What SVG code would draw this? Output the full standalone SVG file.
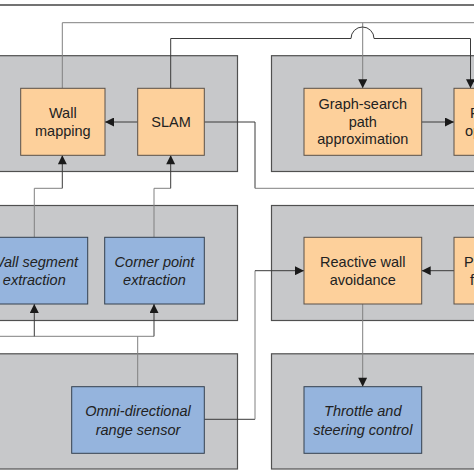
<svg xmlns="http://www.w3.org/2000/svg" width="474" height="474" viewBox="0 0 474 474">
<defs>
<style>
.panel{fill:#c7c8ca;stroke:#505050;stroke-width:1.2}
.org{fill:#fdd09b;stroke:#5a5048;stroke-width:1}
.blu{fill:#95b4dd;stroke:#34404f;stroke-width:1}
.t{font-family:"Liberation Sans",Arial,sans-serif;font-size:14.5px;fill:#222;text-anchor:middle}
.s{text-anchor:start}
.i{font-style:italic}
.c{fill:none;stroke:#3a3a3a;stroke-width:1}
.l{fill:none;stroke:#808080;stroke-width:1}
</style>
<marker id="a" viewBox="0 0 10 10" refX="10" refY="5" markerWidth="10" markerHeight="9" markerUnits="userSpaceOnUse" orient="auto">
<path d="M0,0 L10,5 L0,10 z" fill="#1a1a1a"/>
</marker>
</defs>
<rect width="474" height="474" fill="#ffffff"/>
<line x1="0" y1="5" x2="474" y2="5" stroke="#444" stroke-width="1.5"/>
<g id="panels">
<rect class="panel" x="-5" y="55.7" width="242.5" height="115.8"/>
<rect class="panel" x="271.5" y="55.7" width="210" height="115.8"/>
<rect class="panel" x="-5" y="205.5" width="242.5" height="115"/>
<rect class="panel" x="271.5" y="205.5" width="210" height="115"/>
<rect class="panel" x="-5" y="353.8" width="242.5" height="115.2"/>
<rect class="panel" x="271.5" y="353.8" width="210" height="115.2"/>
</g>
<g id="connectors">
<path class="l" d="M62.3,88.3 V22.7 H474"/>
<path class="l" d="M362.7,22.7 V88.3" marker-end="url(#a)"/>
<path class="c" d="M170.7,88.3 V38.5 H351 A11.5,11.5 0 0 1 374,38.5 H470.5 V88.3" marker-end="url(#a)"/>
<path class="c" d="M204.3,122 H255 V188.3"/>
<path class="l" d="M255,188.3 H474"/>
<path class="c" d="M137.7,122 H105" marker-end="url(#a)"/>
<path class="l" d="M34.3,237.3 V188.3 H62.3"/>
<path class="c" d="M62.3,188.3 V155.3" marker-end="url(#a)"/>
<path class="l" d="M154,237.3 V188.3 H170.7"/>
<path class="c" d="M170.7,188.3 V155.3" marker-end="url(#a)"/>
<path class="l" d="M137.7,386.7 V336.3"/>
<path class="l" d="M0,336.3 H154"/>
<path class="c" d="M34.3,336.3 V304" marker-end="url(#a)"/>
<path class="c" d="M154,336.3 V304" marker-end="url(#a)"/>
<path class="c" d="M204.3,419.3 H255"/>
<path class="l" d="M255,419.3 V270.7"/>
<path class="c" d="M255,270.7 H304" marker-end="url(#a)"/>
<path class="c" d="M454,270.7 H421.7" marker-end="url(#a)"/>
<path class="c" d="M421.7,122 H454" marker-end="url(#a)"/>
<path class="l" d="M362.7,304 V386.7" marker-end="url(#a)"/>
</g>
<g id="wall-mapping">
<rect class="org" x="20.7" y="88.3" width="84.3" height="67"/>
<text class="t" x="62.8" y="118">Wall</text>
<text class="t" x="62.8" y="135.5">mapping</text>
</g>
<g id="slam">
<rect class="org" x="137.7" y="88.3" width="66.6" height="67"/>
<text class="t" x="171" y="127">SLAM</text>
</g>
<g id="graph-search">
<rect class="org" x="304" y="88.3" width="117.7" height="67"/>
<text class="t" x="362.8" y="109">Graph-search</text>
<text class="t" x="362.8" y="126.5">path</text>
<text class="t" x="362.8" y="144">approximation</text>
</g>
<g id="path-optimization">
<rect class="org" x="454" y="88.3" width="117.7" height="67"/>
<text class="t s" x="470" y="118">Path</text>
<text class="t s" x="465" y="135.5">optimization</text>
</g>
<g id="wall-segment">
<rect class="blu" x="-19" y="237.3" width="106.7" height="66.7"/>
<text class="t i" x="34.3" y="267">Wall segment</text>
<text class="t i" x="34.3" y="284.5">extraction</text>
</g>
<g id="corner-point">
<rect class="blu" x="104.7" y="237.3" width="99.6" height="66.7"/>
<text class="t i" x="154.5" y="267">Corner point</text>
<text class="t i" x="154.5" y="284.5">extraction</text>
</g>
<g id="reactive-wall">
<rect class="org" x="304" y="237.3" width="117.7" height="66.7"/>
<text class="t" x="362.8" y="267">Reactive wall</text>
<text class="t" x="362.8" y="284.5">avoidance</text>
</g>
<g id="path-following">
<rect class="org" x="454" y="237.3" width="117.7" height="66.7"/>
<text class="t s" x="464" y="267">Path</text>
<text class="t s" x="470" y="284.5">following</text>
</g>
<g id="omni-sensor">
<rect class="blu" x="71.7" y="386.7" width="132.6" height="66.6"/>
<text class="t i" x="138" y="416">Omni-directional</text>
<text class="t i" x="138" y="434.5">range sensor</text>
</g>
<g id="throttle">
<rect class="blu" x="304" y="386.7" width="117.7" height="66.6"/>
<text class="t i" x="362.8" y="416">Throttle and</text>
<text class="t i" x="362.8" y="434.5">steering control</text>
</g>
</svg>
